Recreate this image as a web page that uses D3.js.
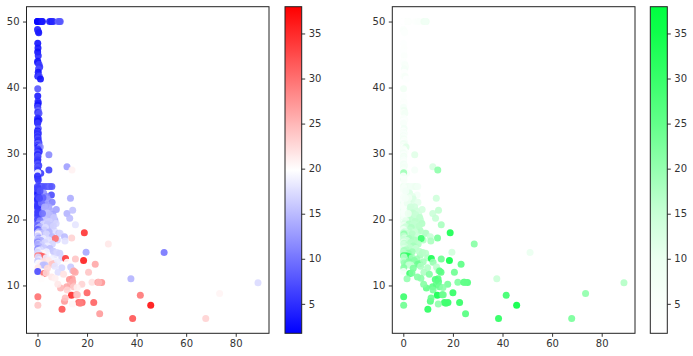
<!DOCTYPE html>
<html><head><meta charset="utf-8">
<script src="https://cdn.jsdelivr.net/npm/d3@7"></script>
<style>body{margin:0;background:#fff} text{font-family:"DejaVu Sans",sans-serif}</style>
</head><body><svg id="c" width="693" height="356"></svg>
<script>
// ---- data: CRIM (x), MEDV (y), LSTAT (colour) ----
const crimA=[0.01,0.05,0.3,0.6,1.0,1.4,2.0,0.5,4.9,5.7,6.3,8.3,9.2,8.9,0.02,1.8];
const medvA=[50,50,50,50,50,50,50,50,50,50,50,50,50,50,50,50];
const lstatA=[3.0,2.9,4.6,3.3,2.5,4.0,5.1,6.0,3.3,3.7,4.5,8.9,9.5,7.8,2.0,3.3];

const crimB=[0.02,0.3,0.5,0.1,0.2,0.06,0.3,0.1,0.05,0.6, 0.9,0.4,0.3,0.1,0.7,1.2,0.1,0.1,0.2,0.3, 0.05,0.1,0.3,0.07,0.6,0.1,0.08,0.6,0.03,0.03, 0.1,0.3,0.03,0.1,0.2,0.05,0.3,0.1,0.02,0.1, 0.2,0.07,0.3,0.05,0.6,0.1,0.05,0.4,0.3,1.1, 0.1,0.2,0.7,0.05,0.1,0.03,0.2,0.05,0.1,0.1, 4.6,0.03,0.1,0.5,0.1,11.9,0.1,0.07,4.6,13.9, 0.4,1.3,0.2,0.1,0.03,0.15];
const medvB=[48.8,48.5,48.3,46.7,46.0,45.4,44.8,44.0,43.8,43.5, 43.1,42.8,42.3,41.7,41.7,41.3,39.8,38.7,37.9,37.6, 37.3,37.0,36.5,36.2,36.1,35.4,35.2,35.1,34.9,34.7, 34.6,33.8,33.4,33.3,33.2,33.1,33.0,32.9,32.7,32.5, 32.4,32.2,32.0,31.7,31.6,31.5,31.2,31.1,31.0,31.0, 30.7,30.5,30.3,30.1,29.9,29.8,29.6,29.4,29.1,29.0, 29.8,28.7,28.4,28.2,28.0,28.0,27.9,27.5,27.5,27.5, 27.0,27.0,26.6,26.4,26.2,27.1];
const lstatB=[4.0,5.0,3.5,3.0,3.2,2.9,4.5,3.1,3.5,6.0, 5.5,7.0,3.2,4.3,6.3,3.0,8.0,3.6,4.6,3.9, 3.1,6.5,9.0,5.3,7.7,4.8,5.0,4.2,3.0,4.0, 5.8,7.5,2.9,5.7,7.0,4.6,6.5,5.0,6.8,4.5, 5.9,7.2,5.3,4.6,6.5,8.5,5.5,9.0,3.8,11.5, 6.2,5.5,4.4,7.4,6.0,4.7,8.0,7.0,6.9,5.9, 11.5,5.2,7.8,6.6,6.1,13.0,7.6,5.9,6.5,20.8, 9.0,6.0,8.0,6.8,10.0,19.2];

const crimC=[0.05,0.1,0.3,0.7,1.5,2.0,3.2,4.4,5.0,5.8, 0.2,0.1,0.5,0.03,0.2,1.0,2.5,5.6,3.7,0.1, 0.4,0.06,0.1,4.0,0.3,0.9,0.04,2.2,5.9,0.1, 0.6,3.5,1.6,0.2,0.1,4.6,0.05,0.8,2.7,7.6, 0.3,5.3,0.2,3.0,0.7,11.9,14.2,1.2,6.2,0.1, 4.3,0.4,2.0,13.0,0.6,5.5,0.05,1.5,3.4,0.1, 7.0,0.3,13.3,0.02,0.05,0.1,0.2,0.1,0.04,0.5, 0.04,0.1,0.1,0.05,0.1,0.2,0.1,0.3,0.1,0.05, 0.2,0.1,0.3];
const medvC=[25.0,25.0,25.0,25.0,25.0,25.0,25.0,25.0,25.0,25.0, 24.8,24.5,24.4,24.1,24.0,23.9,24.0,23.7,23.5,23.8, 23.4,23.2,23.1,23.1,22.9,22.8,22.6,22.7,22.6,22.5, 22.3,22.2,22.1,22.0,21.9,21.9,21.7,21.6,21.5,21.5, 21.4,21.3,21.2,21.1,21.0,20.9,21.4,20.9,20.8,20.6, 20.6,20.5,20.4,20.2,20.3,20.2,20.1,20.0,20.0,19.9, 19.9,19.7,23.2,26.6,23.0,22.0,21.2,20.6,20.0,19.4, 18.9,18.2,15.5,16.8,17.8,18.5,19.5,20.5,21.0,22.2, 23.5,24.6,26.0];
const lstatC=[8.0,5.5,9.5,7.0,6.5,8.7,7.5,8.0,9.2,7.9, 6.4,7.0,9.6,5.0,4.98,10.3,12.0,7.0,11.0,3.5, 8.2,7.9,6.0,12.5,12.4,9.0,7.4,13.0,11.0,10.5, 8.5,12.0,11.3,8.0,12.0,13.5,6.5,9.14,13.0,13.3, 11.0,14.0,9.7,15.0,10.5,14.5,15.5,12.0,13.4,14.5, 12.7,9.0,13.5,15.2,11.5,14.0,12.8,14.2,16.0,16.0, 14.5,21.0,14.0,4.6,4.2,5.0,5.7,5.3,6.4,6.7, 7.2,7.9,11.5,12.0,8.0,7.5,6.5,7.0,6.0,5.5, 5.8,6.2,5.5];

const crimD=[5.2,15.3,0.5,2.3,4.0,0.1,6.4,1.0,3.2,0.2, 8.6,9.1,0.05,2.7,0.7,4.7,0.1,1.7,18.9,0.3, 3.6,10.9,0.1,5.9,0.6,13.8,7.2,2.3,0.2,4.5, 11.1,1.4,0.05,3.0,0.4,6.0,28.6,0.1,1.8,4.0, 0.7,2.6,0.2,5.0,6.4,1.2,0.3,7.8,19.6,51.1, 3.6,0.05,2.0,9.0,0.5];
const medvD=[19.1,19.2,19.4,19.3,19.3,19.1,19.0,18.9,18.8,18.7, 17.9,17.9,18.5,18.4,18.2,18.1,18.0,17.9,18.0,17.8, 17.8,17.4,17.5,17.4,17.2,17.2,17.1,17.1,17.0,16.9, 16.75,16.8,16.6,16.5,16.4,16.3,16.3,16.2,16.1,16.0, 15.9,15.7,15.6,15.6,15.2,15.4,15.3,15.0,15.05,15.0, 15.1,15.0,14.9,14.9,14.8];
const lstatD=[15.5,18.0,12.0,17.0,15.8,9.0,16.5,14.7,17.5,13.5, 16.0,17.0,8.0,16.2,12.5,14.7,15.6,15.3,34.4,20.5, 16.9,15.0,16.2,14.8,13.0,23.0,30.0,18.5,15.0,17.8, 17.8,14.0,11.5,17.0,15.8,16.9,21.5,13.5,16.4,18.5, 14.4,16.0,12.0,15.3,16.0,17.4,18.0,17.0,13.6,10.1, 19.0,16.5,20.5,16.5,17.3];

const crimE=[0.1,1.2,2.6,1.9,0.3,3.5,9.8,11.3,15.3,18.6, 5.5,0.7,4.4,0.1,2.2,6.6,8.0,0.4,23.3,5.8, 1.4,3.0,2.2,12.0,7.0,9.8,13.4,0.2,4.0,14.1, 14.6,8.3,20.6,0.1,2.6,3.5,15.2,10.5,5.7,7.1, 14.0,12.9,37.7,1.5];
const medvE=[14.5,14.5,14.3,14.4,14.3,14.2,14.2,14.1,14.0,13.8, 14.0,13.9,13.8,13.7,13.6,13.3,13.6,13.4,13.2,13.2, 13.3,13.1,13.1,13.5,12.9,12.7,12.8,12.7,12.6,12.3, 12.2,12.0,12.0,12.1,11.8,11.9,12.0,11.7,11.3,11.1, 11.0,10.9,11.0,11.0];
const lstatE=[29.0,30.0,28.0,31.0,17.0,18.8,17.0,34.0,24.0,36.0, 19.0,18.4,21.5,16.0,22.0,25.0,18.6,19.7,26.0,24.0, 21.0,15.5,15.0,20.0,17.9,17.0,16.0,21.5,22.5,16.5, 26.0,17.5,24.0,7.0,30.0,23.0,26.0,22.0,21.5,21.0, 26.5,27.5,14.5,20.0];

const crimF=[22.0,24.4,25.9,24.7,88.98,17.9,13.3,14.2,11.8,14.6, 9.3,12.0,16.0,73.5,20.0,41.5,13.7,15.7,16.1,0.15, 10.9,16.6,18.0,17.2,22.7,14.1,0.15,45.7,9.9,25.1, 38.4,67.9,8.2,11.2];
const medvF=[10.5,10.5,10.45,10.5,10.4,10.2,10.1,10.55,9.8,9.8, 9.6,9.3,9.7,8.8,8.9,8.5,8.5,8.6,8.6,8.3, 7.6,7.4,7.4,7.3,7.4,7.2,7.0,7.0,6.4,5.7, 5.0,5.0,10.2,8.1];
const lstatF=[22.0,27.0,27.5,25.0,17.2,23.0,25.0,26.0,26.0,24.0, 25.0,23.0,21.0,20.6,31.0,29.5,35.0,27.0,24.0,30.0, 27.0,31.0,31.0,29.0,31.0,20.5,24.0,37.0,32.0,27.0, 32.0,23.0,21.5,24.5];

const crimG=[1.0,2.2,1.6,2.9,3.9,5.0,6.6,4.8,7.5,2.5, 5.4,6.8,1.2,3.1,8.0,1.6,4.9,2.9,6.9,1.0, 2.0,0.8];
const medvG=[24.3,23.3,22.5,21.9,21.0,20.7,20.3,19.7,19.4,18.9, 18.5,18.3,17.6,17.3,16.9,16.4,15.9,15.3,14.6,19.8, 20.9,23.2];
const lstatG=[7.5,8.5,9.5,14.0,15.5,15.0,16.0,16.5,17.0,16.0, 16.8,17.5,16.0,17.6,17.0,18.0,18.5,17.0,18.2,11.0, 10.0,7.0];

const crim=[...crimA,...crimB,...crimC,...crimG,...crimD,...crimE,...crimF];
const medv=[...medvA,...medvB,...medvC,...medvG,...medvD,...medvE,...medvF];
const lstat=[...lstatA,...lstatB,...lstatC,...lstatG,...lstatD,...lstatE,...lstatF];

const xTicks=[0,20,40,60,80];
const yTicks=[10,20,30,40,50];
const cTicks=[5,10,15,20,25,30,35];
const cRange=[1.73,37.97];
const xRange=[-4.44,93.43];
const yRange=[2.75,52.25];

// ---- colour maps ----
function bwr(t){t=Math.max(0,Math.min(1,t));
  if(t<0.5){const v=Math.round(510*t);return `rgb(${v},${v},255)`;}
  const v=Math.round(255*(2-2*t));return `rgb(255,${v},${v})`;}
const gk=d3.scaleLinear().domain([0,0.09,0.23,0.37,0.5,0.64,0.78,0.92,1]).range([0,0.02,0.08,0.22,0.41,0.61,0.78,0.94,1]).clamp(true);
function greens(t){const k=gk(t);return `rgb(${Math.round(255*(1-k))},255,${Math.round(255-191*k)})`;}

const svg=d3.select("#c");
const yTop=6.7,yBot=333.3;
const panels=[{x0:26.5,x1:269,cb0:285,cb1:301.7,cmap:bwr,id:"g1"},{x0:392.3,x1:635,cb0:650.3,cb1:667.3,cmap:greens,id:"g2"}];
const n=Math.min(crim.length,medv.length,lstat.length);
const idx=d3.range(n);
const defs=svg.append("defs");

panels.forEach(p=>{
  const x=d3.scaleLinear().domain(xRange).range([p.x0,p.x1]);
  const y=d3.scaleLinear().domain(yRange).range([yBot,yTop]);
  const c=d3.scaleLinear().domain(cRange).range([0,1]);
  const g=svg.append("g");
  g.append("clipPath").attr("id","clip"+p.id).append("rect").attr("x",p.x0).attr("y",yTop).attr("width",p.x1-p.x0).attr("height",yBot-yTop);
  g.append("g").attr("clip-path",`url(#clip${p.id})`).selectAll("circle").data(idx).join("circle")
    .attr("cx",i=>x(crim[i])).attr("cy",i=>y(medv[i])).attr("r",3.5)
    .attr("fill",i=>p.cmap(c(lstat[i]))).attr("fill-opacity",0.9);
  const ax=g.append("g").attr("transform",`translate(0,${yBot})`).call(d3.axisBottom(x).tickValues(xTicks).tickSize(3.5).tickPadding(3.5).tickFormat(d3.format("d")));
  const ay=g.append("g").attr("transform",`translate(${p.x0},0)`).call(d3.axisLeft(y).tickValues(yTicks).tickSize(3.5).tickPadding(3.5).tickFormat(d3.format("d")));
  [ax,ay].forEach(a=>{a.select(".domain").remove();a.selectAll("text").attr("font-size",10).attr("fill","#333").attr("font-family","DejaVu Sans");a.selectAll("line").attr("stroke","#333");});
  g.append("rect").attr("x",p.x0).attr("y",yTop).attr("width",p.x1-p.x0).attr("height",yBot-yTop).attr("fill","none").attr("stroke","#222").attr("stroke-width",1);
  // colourbar
  const grad=defs.append("linearGradient").attr("id","grad"+p.id).attr("x1",0).attr("y1",1).attr("x2",0).attr("y2",0);
  d3.range(0,1.0001,0.02).forEach(t=>grad.append("stop").attr("offset",t).attr("stop-color",p.cmap(t)));
  const cy=d3.scaleLinear().domain(cRange).range([yBot,yTop]);
  g.append("rect").attr("x",p.cb0).attr("y",yTop).attr("width",p.cb1-p.cb0).attr("height",yBot-yTop).attr("fill",`url(#grad${p.id})`);
  const ac=g.append("g").attr("transform",`translate(${p.cb1},0)`).call(d3.axisRight(cy).tickValues(cTicks).tickSize(3.5).tickPadding(3.5).tickFormat(d3.format("d")));
  ac.select(".domain").remove();ac.selectAll("text").attr("font-size",10).attr("fill","#333").attr("font-family","DejaVu Sans");ac.selectAll("line").attr("stroke","#333");
  g.append("rect").attr("x",p.cb0).attr("y",yTop).attr("width",p.cb1-p.cb0).attr("height",yBot-yTop).attr("fill","none").attr("stroke","#222").attr("stroke-width",1);
});
</script></body></html>
